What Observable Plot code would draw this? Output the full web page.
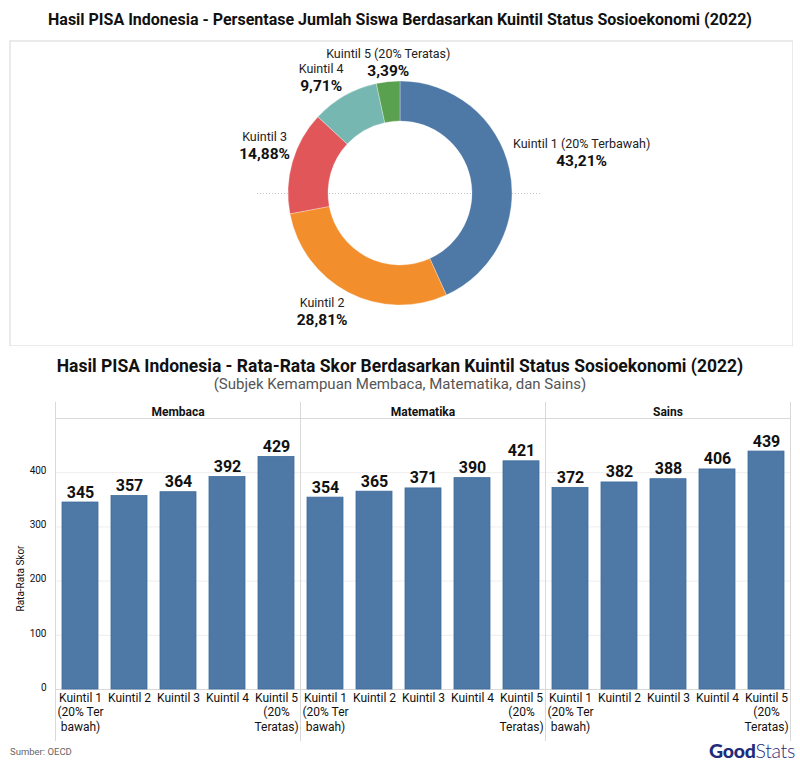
<!DOCTYPE html>
<html>
<head>
<meta charset="utf-8">
<script src="https://cdn.jsdelivr.net/npm/d3@7"></script>
<script src="https://cdn.jsdelivr.net/npm/@observablehq/plot@0.6"></script>
<style>
  html, body { margin: 0; padding: 0; background: #fff; }
  #page { position: relative; width: 800px; height: 768px; font-family: Roboto, "Noto Sans", sans-serif; color: #111; overflow: hidden; }
  .title { position: absolute; left: 0; width: 800px; text-align: center; font-family: Roboto, sans-serif; font-weight: bold; line-height: 20px; color: #111; white-space: nowrap; }
  .subtitle { position: absolute; left: 0; width: 800px; text-align: center; font-family: Roboto, sans-serif; font-size: 15px; line-height: 18px; color: #555; white-space: nowrap; }
  #donut { position: absolute; left: 9px; top: 40px; }
  #bars { position: absolute; left: 0; top: 400px; }
  #source { position: absolute; left: 10px; top: 746px; font-size: 9.5px; color: #666; }
  #logo { position: absolute; right: 5px; top: 739px; font-family: "Lato", Roboto, sans-serif; font-size: 19.5px; color: #1f2b7b; letter-spacing: -0.3px; }
  #logo b { font-weight: 900; }
  #logo span { font-weight: 300; }
</style>
</head>
<body>
<div id="page">
  <div class="title" style="top:10px; font-size:16px">Hasil PISA Indonesia - Persentase Jumlah Siswa Berdasarkan Kuintil Status Sosioekonomi (2022)</div>
  <div id="donut"></div>
  <div class="title" style="top:356px; font-size:17.5px">Hasil PISA Indonesia - Rata-Rata Skor Berdasarkan Kuintil Status Sosioekonomi (2022)</div>
  <div class="subtitle" style="top:375px">(Subjek Kemampuan Membaca, Matematika, dan Sains)</div>
  <div id="bars"></div>
  <div id="source">Sumber: OECD</div>
  <div id="logo"><b>Good</b><span>Stats</span></div>
</div>
<script>
// ---------- Donut data ----------
const quintileNames = ["Kuintil 1 (20% Terbawah)", "Kuintil 2", "Kuintil 3", "Kuintil 4", "Kuintil 5 (20% Teratas)"];
const shareValues = [43.21, 28.81, 14.88, 9.71, 3.39];
const shareLabels = ["43,21%", "28,81%", "14,88%", "9,71%", "3,39%"];
const shareColors = ["#4e79a7", "#f28e2b", "#e15759", "#76b7b2", "#59a14f"];

// ---------- Bar data ----------
const subjects = ["Membaca", "Matematika", "Sains"];
const quintileKeys = ["Kuintil 1", "Kuintil 2", "Kuintil 3", "Kuintil 4", "Kuintil 5"];
const quintileTickLabels = ["Kuintil 1\n(20% Ter\nbawah)", "Kuintil 2", "Kuintil 3", "Kuintil 4", "Kuintil 5\n(20%\nTeratas)"];
const scoresMembaca = [345, 357, 364, 392, 429];
const scoresMatematika = [354, 365, 371, 390, 421];
const scoresSains = [372, 382, 388, 406, 439];
const yTicks = [0, 100, 200, 300, 400];

// ---------- Donut chart ----------
const DW = 784, DH = 306;
const CX = 391, CY = 153; // center within svg
const R_OUT = 112, R_IN = 72, R_LAB = 115;
const NAME_FONT = "12.5px Roboto", VALUE_FONT = "bold 15.5px Roboto";

const ctx = document.createElement("canvas").getContext("2d");
function textWidth(str, font) { ctx.font = font; return ctx.measureText(str).width; }

const donutRows = quintileNames.map((name, i) => ({name, share: shareValues[i], label: shareLabels[i], color: shareColors[i]}));
const arcs = d3.pie().sort(null).value(d => d.share)(donutRows);
const labelRows = arcs.map(a => {
  const mid = (a.startAngle + a.endAngle) / 2;
  const s = Math.sin(mid), c = Math.cos(mid);
  const px = R_LAB * s, py = -R_LAB * c;
  const w = Math.max(textWidth(a.data.name, NAME_FONT), textWidth(a.data.label, VALUE_FONT));
  const cx = s > 0.4 ? px + w / 2 : s < -0.4 ? px - w / 2 : px;
  let ly, vy;
  if (c > 0.15) { vy = py - 8; ly = py - 25; }
  else if (c < -0.4) { ly = py + 7; vy = py + 24; }
  else { ly = py - 8; vy = py + 9; }
  return {...a.data, cx, ly, vy};
});

function donutMark(index, scales) {
  const g = d3.create("svg:g");
  const x0 = scales.x(0), y0 = scales.y(0);
  const arcGen = d3.arc().innerRadius(R_IN).outerRadius(R_OUT);
  g.attr("transform", `translate(${x0},${y0})`)
    .selectAll("path").data(arcs).join("path")
    .attr("d", arcGen)
    .attr("fill", d => d.data.color)
    .attr("stroke", "#fff").attr("stroke-width", 0.3);
  return g.node();
}

const donut = Plot.plot({
  width: DW, height: DH,
  margin: 0,
  style: {fontFamily: "Roboto, sans-serif", background: "transparent"},
  x: {domain: [-CX, DW - CX], range: [0, DW], axis: null},
  y: {domain: [-CY, DH - CY], range: [0, DH], axis: null},
  marks: [
    Plot.frame({stroke: "#d6d6d6", inset: 0.5}),
    Plot.ruleY([0], {x1: -(R_OUT + 31), x2: R_OUT + 30, stroke: "#c8c8c8", strokeDasharray: "1,2"}),
    donutMark,
    Plot.text(labelRows, {x: "cx", y: "ly", text: "name", textAnchor: "middle", lineAnchor: "middle", fontSize: 12.5, fill: "#222"}),
    Plot.text(labelRows, {x: "cx", y: "vy", text: "label", textAnchor: "middle", lineAnchor: "middle", fontSize: 15.5, fontWeight: "bold", fill: "#111"})
  ]
});
document.getElementById("donut").appendChild(donut);

// ---------- Faceted bar chart ----------
const scoreSeries = [scoresMembaca, scoresMatematika, scoresSains];
const barRows = subjects.flatMap((subject, si) => quintileKeys.map((q, qi) => ({subject, q, score: scoreSeries[si][qi]})));
const tickMap = new Map(quintileKeys.map((k, i) => [k, quintileTickLabels[i]]));

const bars = Plot.plot({
  width: 800, height: 345,
  marginLeft: 54, marginRight: 9, marginTop: 18, marginBottom: 56,
  style: {fontFamily: "Roboto, sans-serif", background: "transparent", color: "#111"},
  fx: {domain: subjects, padding: 0, label: null, axis: null},
  x: {domain: quintileKeys, paddingInner: 0.27, paddingOuter: 0.135, label: null, axis: null},
  y: {domain: [0, 500], label: null, axis: null},
  marks: [
    Plot.gridY(yTicks.slice(1), {stroke: "#eeeeee", strokeOpacity: 1}),
    Plot.ruleY([0], {stroke: "#d9d9d9"}),
    Plot.frame({anchor: "left", insetTop: -16, insetBottom: -51, stroke: "#d9d9d9"}),
    Plot.frame({anchor: "right", insetTop: -16, insetBottom: -51, stroke: "#d9d9d9"}),
    Plot.frame({anchor: "top", stroke: "#d9d9d9"}),
    Plot.barY(barRows, {fx: "subject", x: "q", y: "score", fill: "#4e79a7", stroke: "#3f6b9c", strokeWidth: 0.8}),
    Plot.text(barRows, {fx: "subject", x: "q", y: "score", text: d => String(d.score), dy: -5, lineAnchor: "bottom", fontSize: 16, fontWeight: "bold", fill: "#111"}),
    Plot.axisFx({anchor: "top", tickSize: 0, tickPadding: 3, fontSize: 12, fontWeight: "bold", label: null}),
    Plot.axisX({tickSize: 0, tickPadding: 2, fontSize: 12, lineHeight: 1.2, label: null, tickFormat: d => tickMap.get(d)}),
    Plot.axisY({ticks: yTicks, tickSize: 0, tickPadding: 9, fontSize: 10, dy: -2, label: null}),
    Plot.text(["Rata-Rata Skor"], {fx: ["Membaca"], text: d => d, frameAnchor: "bottom-left", rotate: -90, dx: -32, dy: -111, textAnchor: "middle", fontSize: 10, fill: "#111"})
  ]
});
document.getElementById("bars").appendChild(bars);
</script>
</body>
</html>
